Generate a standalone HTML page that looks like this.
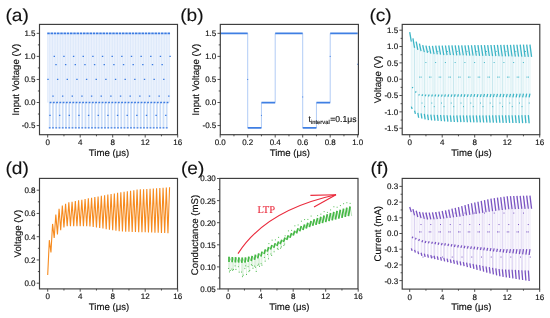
<!DOCTYPE html>
<html><head><meta charset="utf-8"><style>
html,body{margin:0;padding:0;background:#fff;width:550px;height:318px;overflow:hidden}
svg{display:block;will-change:transform}
text{text-rendering:geometricPrecision;font-family:"Liberation Sans",sans-serif;fill:#111;stroke:#111;stroke-width:0.15px}
</style></head><body>
<svg width="550" height="318" viewBox="0 0 550 318">
<rect width="550" height="318" fill="#fff"/>
<rect x="47.7" y="33.35" width="121.87" height="69.15" fill="#f4f8fe"/>
<path d="M47.7 102.5V33.35M49.33 33.35V102.5M50.95 102.5V33.35M52.58 33.35V102.5M54.2 102.5V33.35M55.83 33.35V102.5M57.45 102.5V33.35M59.08 33.35V102.5M60.7 102.5V33.35M62.33 33.35V102.5M63.95 102.5V33.35M65.58 33.35V102.5M67.2 102.5V33.35M68.83 33.35V102.5M70.45 102.5V33.35M72.08 33.35V102.5M73.7 102.5V33.35M75.33 33.35V102.5M76.95 102.5V33.35M78.58 33.35V102.5M80.2 102.5V33.35M81.83 33.35V102.5M83.45 102.5V33.35M85.08 33.35V102.5M86.7 102.5V33.35M88.33 33.35V102.5M89.95 102.5V33.35M91.58 33.35V102.5M93.2 102.5V33.35M94.83 33.35V102.5M96.45 102.5V33.35M98.08 33.35V102.5M99.7 102.5V33.35M101.33 33.35V102.5M102.95 102.5V33.35M104.58 33.35V102.5M106.2 102.5V33.35M107.83 33.35V102.5M109.45 102.5V33.35M111.08 33.35V102.5M112.7 102.5V33.35M114.33 33.35V102.5M115.95 102.5V33.35M117.58 33.35V102.5M119.2 102.5V33.35M120.83 33.35V102.5M122.45 102.5V33.35M124.08 33.35V102.5M125.7 102.5V33.35M127.33 33.35V102.5M128.95 102.5V33.35M130.57 33.35V102.5M132.2 102.5V33.35M133.82 33.35V102.5M135.45 102.5V33.35M137.07 33.35V102.5M138.7 102.5V33.35M140.32 33.35V102.5M141.95 102.5V33.35M143.57 33.35V102.5M145.2 102.5V33.35M146.82 33.35V102.5M148.45 102.5V33.35M150.07 33.35V102.5M151.7 102.5V33.35M153.32 33.35V102.5M154.95 102.5V33.35M156.57 33.35V102.5M158.2 102.5V33.35M159.82 33.35V102.5M161.45 102.5V33.35M163.07 33.35V102.5M164.7 102.5V33.35M166.32 33.35V102.5M167.95 102.5V33.35M169.57 33.35V102.5" stroke="#c4d9f7" stroke-width="0.5" fill="none"/>
<path d="M49.33 102.5V127.86M50.14 127.86V102.5M52.58 102.5V127.86M53.39 127.86V102.5M55.83 102.5V127.86M56.64 127.86V102.5M59.08 102.5V127.86M59.89 127.86V102.5M62.33 102.5V127.86M63.14 127.86V102.5M65.58 102.5V127.86M66.39 127.86V102.5M68.83 102.5V127.86M69.64 127.86V102.5M72.08 102.5V127.86M72.89 127.86V102.5M75.33 102.5V127.86M76.14 127.86V102.5M78.58 102.5V127.86M79.39 127.86V102.5M81.83 102.5V127.86M82.64 127.86V102.5M85.08 102.5V127.86M85.89 127.86V102.5M88.33 102.5V127.86M89.14 127.86V102.5M91.58 102.5V127.86M92.39 127.86V102.5M94.83 102.5V127.86M95.64 127.86V102.5M98.08 102.5V127.86M98.89 127.86V102.5M101.33 102.5V127.86M102.14 127.86V102.5M104.58 102.5V127.86M105.39 127.86V102.5M107.83 102.5V127.86M108.64 127.86V102.5M111.08 102.5V127.86M111.89 127.86V102.5M114.33 102.5V127.86M115.14 127.86V102.5M117.58 102.5V127.86M118.39 127.86V102.5M120.83 102.5V127.86M121.64 127.86V102.5M124.08 102.5V127.86M124.89 127.86V102.5M127.33 102.5V127.86M128.14 127.86V102.5M130.57 102.5V127.86M131.39 127.86V102.5M133.82 102.5V127.86M134.64 127.86V102.5M137.07 102.5V127.86M137.89 127.86V102.5M140.32 102.5V127.86M141.14 127.86V102.5M143.57 102.5V127.86M144.39 127.86V102.5M146.82 102.5V127.86M147.64 127.86V102.5M150.07 102.5V127.86M150.89 127.86V102.5M153.32 102.5V127.86M154.14 127.86V102.5M156.57 102.5V127.86M157.39 127.86V102.5M159.82 102.5V127.86M160.64 127.86V102.5M163.07 102.5V127.86M163.89 127.86V102.5M166.32 102.5V127.86M167.14 127.86V102.5" stroke="#9fc0f2" stroke-width="0.5" fill="none"/>
<path d="M47.25 33.35H49.78M50.5 33.35H53.03M53.75 33.35H56.28M57 33.35H59.53M60.25 33.35H62.78M63.5 33.35H66.03M66.75 33.35H69.28M70 33.35H72.53M73.25 33.35H75.78M76.5 33.35H79.03M79.75 33.35H82.28M83 33.35H85.53M86.25 33.35H88.78M89.5 33.35H92.03M92.75 33.35H95.28M96 33.35H98.53M99.25 33.35H101.78M102.5 33.35H105.03M105.75 33.35H108.28M109 33.35H111.53M112.25 33.35H114.78M115.5 33.35H118.03M118.75 33.35H121.28M122 33.35H124.53M125.25 33.35H127.78M128.5 33.35H131.02M131.75 33.35H134.27M135 33.35H137.52M138.25 33.35H140.77M141.5 33.35H144.02M144.75 33.35H147.27M148 33.35H150.52M151.25 33.35H153.77M154.5 33.35H157.02M157.75 33.35H160.27M161 33.35H163.52M164.25 33.35H166.77M167.5 33.35H170.02" stroke="#3b7be2" stroke-width="1.7" fill="none"/>
<path d="M48.83 127.86H50.64M49.64 102.5H51.45M52.08 127.86H53.89M52.89 102.5H54.7M55.33 127.86H57.14M56.14 102.5H57.95M58.58 127.86H60.39M59.39 102.5H61.2M61.83 127.86H63.64M62.64 102.5H64.45M65.08 127.86H66.89M65.89 102.5H67.7M68.33 127.86H70.14M69.14 102.5H70.95M71.58 127.86H73.39M72.39 102.5H74.2M74.83 127.86H76.64M75.64 102.5H77.45M78.08 127.86H79.89M78.89 102.5H80.7M81.33 127.86H83.14M82.14 102.5H83.95M84.58 127.86H86.39M85.39 102.5H87.2M87.83 127.86H89.64M88.64 102.5H90.45M91.08 127.86H92.89M91.89 102.5H93.7M94.33 127.86H96.14M95.14 102.5H96.95M97.58 127.86H99.39M98.39 102.5H100.2M100.83 127.86H102.64M101.64 102.5H103.45M104.08 127.86H105.89M104.89 102.5H106.7M107.33 127.86H109.14M108.14 102.5H109.95M110.58 127.86H112.39M111.39 102.5H113.2M113.83 127.86H115.64M114.64 102.5H116.45M117.08 127.86H118.89M117.89 102.5H119.7M120.33 127.86H122.14M121.14 102.5H122.95M123.58 127.86H125.39M124.39 102.5H126.2M126.83 127.86H128.64M127.64 102.5H129.45M130.07 127.86H131.89M130.89 102.5H132.7M133.32 127.86H135.14M134.14 102.5H135.95M136.57 127.86H138.39M137.39 102.5H139.2M139.82 127.86H141.64M140.64 102.5H142.45M143.07 127.86H144.89M143.89 102.5H145.7M146.32 127.86H148.14M147.14 102.5H148.95M149.57 127.86H151.39M150.39 102.5H152.2M152.82 127.86H154.64M153.64 102.5H155.45M156.07 127.86H157.89M156.89 102.5H158.7M159.32 127.86H161.14M160.14 102.5H161.95M162.57 127.86H164.39M163.39 102.5H165.2M165.82 127.86H167.64M166.64 102.5H168.45" stroke="#3b7be2" stroke-width="1.3" fill="none"/>
<path d="M53.6 56.4h1.4M63.25 56.4h1.4M72.9 56.4h1.4M82.55 56.4h1.4M92.2 56.4h1.4M101.85 56.4h1.4M111.5 56.4h1.4M121.15 56.4h1.4M130.8 56.4h1.4M140.45 56.4h1.4M150.1 56.4h1.4M159.75 56.4h1.4M169.4 56.4h1.4M55.3 64.7h1.4M64.95 64.7h1.4M74.6 64.7h1.4M84.25 64.7h1.4M93.9 64.7h1.4M103.55 64.7h1.4M113.2 64.7h1.4M122.85 64.7h1.4M132.5 64.7h1.4M142.15 64.7h1.4M151.8 64.7h1.4M161.45 64.7h1.4M47.3 79.45h1.4M56.95 79.45h1.4M66.6 79.45h1.4M76.25 79.45h1.4M85.9 79.45h1.4M95.55 79.45h1.4M105.2 79.45h1.4M114.85 79.45h1.4M124.5 79.45h1.4M134.15 79.45h1.4M143.8 79.45h1.4M153.45 79.45h1.4M163.1 79.45h1.4M52.3 96.05h1.4M61.95 96.05h1.4M71.6 96.05h1.4M81.25 96.05h1.4M90.9 96.05h1.4M100.55 96.05h1.4M110.2 96.05h1.4M119.85 96.05h1.4M129.5 96.05h1.4M139.15 96.05h1.4M148.8 96.05h1.4M158.45 96.05h1.4M168.1 96.05h1.4M49.3 115.41h1.4M58.95 115.41h1.4M68.6 115.41h1.4M78.25 115.41h1.4M87.9 115.41h1.4M97.55 115.41h1.4M107.2 115.41h1.4M116.85 115.41h1.4M126.5 115.41h1.4M136.15 115.41h1.4M145.8 115.41h1.4M155.45 115.41h1.4M165.1 115.41h1.4" stroke="#3b7be2" stroke-width="1.2" fill="none"/>
<rect x="39.5" y="24.4" width="138" height="110.3" fill="none" stroke="#3c3c3c" stroke-width="1.15"/>
<text transform="translate(35.5 128.45)" text-anchor="end" font-size="8" style="stroke-width:0.15px">-0.5</text>
<text transform="translate(35.5 105.4)" text-anchor="end" font-size="8" style="stroke-width:0.15px">0.0</text>
<text transform="translate(35.5 82.35)" text-anchor="end" font-size="8" style="stroke-width:0.15px">0.5</text>
<text transform="translate(35.5 59.3)" text-anchor="end" font-size="8" style="stroke-width:0.15px">1.0</text>
<text transform="translate(35.5 36.25)" text-anchor="end" font-size="8" style="stroke-width:0.15px">1.5</text>
<path d="M36.7 125.55H39.5M36.7 102.5H39.5M36.7 79.45H39.5M36.7 56.4H39.5M36.7 33.35H39.5M37.9 114.03H39.5M37.9 90.97H39.5M37.9 67.92H39.5M37.9 44.88H39.5" stroke="#3c3c3c" stroke-width="0.9"/>
<text transform="translate(47.7 145.2)" text-anchor="middle" font-size="8" style="stroke-width:0.15px">0</text>
<text transform="translate(80.2 145.2)" text-anchor="middle" font-size="8" style="stroke-width:0.15px">4</text>
<text transform="translate(112.7 145.2)" text-anchor="middle" font-size="8" style="stroke-width:0.15px">8</text>
<text transform="translate(145.2 145.2)" text-anchor="middle" font-size="8" style="stroke-width:0.15px">12</text>
<text transform="translate(177.7 145.2)" text-anchor="middle" font-size="8" style="stroke-width:0.15px">16</text>
<path d="M47.7 134.7V137.5M80.2 134.7V137.5M112.7 134.7V137.5M145.2 134.7V137.5M177.7 134.7V137.5M63.95 134.7V136.3M96.45 134.7V136.3M128.95 134.7V136.3M161.45 134.7V136.3" stroke="#3c3c3c" stroke-width="0.9"/>
<text x="109" y="155.7" text-anchor="middle" font-size="9.6">Time (μs)</text>
<text transform="translate(18.6 79.55) rotate(-90)" text-anchor="middle" font-size="9.65">Input Voltage (V)</text>
<text transform="translate(5.4 21.2) scale(1.1 1)" font-size="17.4" style="stroke-width:0.1px">(a)</text>
<path d="M247.7 33.35V127.86M261.45 127.86V102.5M275.2 102.5V33.35M302.7 33.35V127.86M316.45 127.86V102.5M330.2 102.5V33.35" stroke="#7eaaf0" stroke-width="0.6" fill="none"/>
<path d="M220.2 33.35H247.7M247.7 127.86H261.45M261.45 102.5H275.2M275.2 33.35H302.7M302.7 127.86H316.45M316.45 102.5H330.2M330.2 33.35H357.7" stroke="#3f7fe3" stroke-width="1.75" fill="none"/>
<path d="M260.95 115.41h1M302.2 96.97h1M329.7 56.4h1M357.2 64.24h1M247.2 79.45h1" stroke="#3f7fe3" stroke-width="1" />
<rect x="220.3" y="24.4" width="138.1" height="110.3" fill="none" stroke="#3c3c3c" stroke-width="1.15"/>
<text transform="translate(216.3 128.45)" text-anchor="end" font-size="8" style="stroke-width:0.15px">-0.5</text>
<text transform="translate(216.3 105.4)" text-anchor="end" font-size="8" style="stroke-width:0.15px">0.0</text>
<text transform="translate(216.3 82.35)" text-anchor="end" font-size="8" style="stroke-width:0.15px">0.5</text>
<text transform="translate(216.3 59.3)" text-anchor="end" font-size="8" style="stroke-width:0.15px">1.0</text>
<text transform="translate(216.3 36.25)" text-anchor="end" font-size="8" style="stroke-width:0.15px">1.5</text>
<path d="M217.5 125.55H220.3M217.5 102.5H220.3M217.5 79.45H220.3M217.5 56.4H220.3M217.5 33.35H220.3M218.7 114.03H220.3M218.7 90.97H220.3M218.7 67.92H220.3M218.7 44.88H220.3" stroke="#3c3c3c" stroke-width="0.9"/>
<text transform="translate(220.2 145.2)" text-anchor="middle" font-size="8" style="stroke-width:0.15px">0.0</text>
<text transform="translate(247.7 145.2)" text-anchor="middle" font-size="8" style="stroke-width:0.15px">0.2</text>
<text transform="translate(275.2 145.2)" text-anchor="middle" font-size="8" style="stroke-width:0.15px">0.4</text>
<text transform="translate(302.7 145.2)" text-anchor="middle" font-size="8" style="stroke-width:0.15px">0.6</text>
<text transform="translate(330.2 145.2)" text-anchor="middle" font-size="8" style="stroke-width:0.15px">0.8</text>
<text transform="translate(357.7 145.2)" text-anchor="middle" font-size="8" style="stroke-width:0.15px">1.0</text>
<path d="M220.2 134.7V137.5M247.7 134.7V137.5M275.2 134.7V137.5M302.7 134.7V137.5M330.2 134.7V137.5M357.7 134.7V137.5M233.95 134.7V136.3M261.45 134.7V136.3M288.95 134.7V136.3M316.45 134.7V136.3M343.95 134.7V136.3" stroke="#3c3c3c" stroke-width="0.9"/>
<text x="289.85" y="155.7" text-anchor="middle" font-size="9.6">Time (μs)</text>
<text transform="translate(199.4 79.55) rotate(-90)" text-anchor="middle" font-size="9.65">Input Voltage (V)</text>
<text transform="translate(180.2 21.2) scale(1.1 1)" font-size="17.4" style="stroke-width:0.1px">(b)</text>
<text x="308.6" y="121.5" font-size="8.6">t<tspan font-size="5.8" dy="2">interval</tspan><tspan dy="-2" dx="0.6">=0.1μs</tspan></text>
<path d="M411.32 41.63V106.64M412.14 108.93V88.02M412.95 87.04V38.36M415.39 113.83V92.59M416.2 91.29V41.63M417.82 49.8V112.85M418.64 117.75V95.53M419.45 94.23V43.59M421.07 51.1V113.39M421.89 118.51V95.86M422.7 94.34V45.22M425.14 119.28V96.19M425.95 94.45V45.55M427.57 52.9V114.48M428.39 120.04V96.52M429.2 94.55V45.88M430.82 53.72V114.61M431.64 120.3V96.55M432.45 94.52V45.79M434.89 120.56V96.58M435.7 94.49V45.71M437.32 54.37V114.88M438.14 120.82V96.61M438.95 94.46V45.63M440.57 54.7V115.01M441.39 121.08V96.64M442.2 94.43V45.55M444.64 121.34V96.67M445.45 94.4V45.51M447.07 55.1V115.27M447.89 121.61V96.7M448.7 94.37V45.48M450.32 55.17V115.4M451.14 121.87V96.73M451.95 94.34V45.44M454.39 122.02V96.76M455.2 94.31V45.41M456.82 55.31V115.44M457.64 122.08V96.79M458.45 94.28V45.37M460.07 55.38V115.43M460.89 122.13V96.82M461.7 94.25V45.34M464.14 122.18V96.85M464.95 94.22V45.3M466.57 55.52V115.4M467.39 122.23V96.88M468.2 94.19V45.26M469.82 55.59V115.39M470.64 122.29V96.91M471.45 94.16V45.23M473.89 122.34V96.94M474.7 94.13V45.19M476.32 55.74V115.37M477.14 122.39V96.97M477.95 94.1V45.16M479.57 55.81V115.35M480.39 122.44V97M481.2 94.07V45.12M483.64 122.49V97.03M484.45 94.04V45.09M486.07 55.95V115.33M486.89 122.55V97.06M487.7 94.01V45.05M489.32 56.02V115.31M490.14 122.6V97.09M490.95 93.98V45.02M493.39 122.65V97.12M494.2 93.95V44.98M495.82 56.16V115.29M496.64 122.7V97.15M497.45 93.92V44.94M499.07 56.24V115.27M499.89 122.76V97.18M500.7 93.89V44.91M503.14 122.81V97.21M503.95 93.86V44.87M505.57 56.38V115.25M506.39 122.86V97.24M507.2 93.83V44.84M508.82 56.45V115.24M509.64 122.91V97.27M510.45 93.8V44.8M512.89 122.96V97.3M513.7 93.77V44.77M515.33 56.59V115.21M516.14 123.02V97.33M516.95 93.74V44.73M518.58 56.66V115.2M519.39 123.07V97.36M520.2 93.71V44.69M522.64 123.12V97.39M523.45 93.68V44.66M525.08 56.81V115.17M525.89 123.17V97.42M526.7 93.65V44.62M528.33 56.88V115.16M529.14 123.23V97.45M529.95 93.62V44.59" stroke="#bfe5ec" stroke-width="0.45" fill="none"/>
<path d="M414.57 47.84V110.56M424.32 52.08V113.94M434.07 54.04V114.74M443.82 55.02V115.14M453.57 55.24V115.46M463.32 55.45V115.42M473.07 55.67V115.38M482.82 55.88V115.34M492.57 56.09V115.3M502.32 56.31V115.26M512.08 56.52V115.22M521.83 56.73V115.18" stroke="#8ccfdb" stroke-width="0.5" fill="none"/>
<path d="M409.7 32.16L411.32 41.63M411.32 106.64L412.14 108.93M412.14 88.02L412.95 87.04M412.95 38.36L414.57 47.84M414.57 110.56L415.39 113.83M415.39 92.59L416.2 91.29M416.2 41.63L417.82 49.8M417.82 112.85L418.64 117.75M418.64 95.53L419.45 94.23M419.45 43.59L421.07 51.1M421.07 113.39L421.89 118.51M421.89 95.86L422.7 94.34M422.7 45.22L424.32 52.08M424.32 113.94L425.14 119.28M425.14 96.19L425.95 94.45M425.95 45.55L427.57 52.9M427.57 114.48L428.39 120.04M428.39 96.52L429.2 94.55M429.2 45.88L430.82 53.72M430.82 114.61L431.64 120.3M431.64 96.55L432.45 94.52M432.45 45.79L434.07 54.04M434.07 114.74L434.89 120.56M434.89 96.58L435.7 94.49M435.7 45.71L437.32 54.37M437.32 114.88L438.14 120.82M438.14 96.61L438.95 94.46M438.95 45.63L440.57 54.7M440.57 115.01L441.39 121.08M441.39 96.64L442.2 94.43M442.2 45.55L443.82 55.02M443.82 115.14L444.64 121.34M444.64 96.67L445.45 94.4M445.45 45.51L447.07 55.1M447.07 115.27L447.89 121.61M447.89 96.7L448.7 94.37M448.7 45.48L450.32 55.17M450.32 115.4L451.14 121.87M451.14 96.73L451.95 94.34M451.95 45.44L453.57 55.24M453.57 115.46L454.39 122.02M454.39 96.76L455.2 94.31M455.2 45.41L456.82 55.31M456.82 115.44L457.64 122.08M457.64 96.79L458.45 94.28M458.45 45.37L460.07 55.38M460.07 115.43L460.89 122.13M460.89 96.82L461.7 94.25M461.7 45.34L463.32 55.45M463.32 115.42L464.14 122.18M464.14 96.85L464.95 94.22M464.95 45.3L466.57 55.52M466.57 115.4L467.39 122.23M467.39 96.88L468.2 94.19M468.2 45.26L469.82 55.59M469.82 115.39L470.64 122.29M470.64 96.91L471.45 94.16M471.45 45.23L473.07 55.67M473.07 115.38L473.89 122.34M473.89 96.94L474.7 94.13M474.7 45.19L476.32 55.74M476.32 115.37L477.14 122.39M477.14 96.97L477.95 94.1M477.95 45.16L479.57 55.81M479.57 115.35L480.39 122.44M480.39 97L481.2 94.07M481.2 45.12L482.82 55.88M482.82 115.34L483.64 122.49M483.64 97.03L484.45 94.04M484.45 45.09L486.07 55.95M486.07 115.33L486.89 122.55M486.89 97.06L487.7 94.01M487.7 45.05L489.32 56.02M489.32 115.31L490.14 122.6M490.14 97.09L490.95 93.98M490.95 45.02L492.57 56.09M492.57 115.3L493.39 122.65M493.39 97.12L494.2 93.95M494.2 44.98L495.82 56.16M495.82 115.29L496.64 122.7M496.64 97.15L497.45 93.92M497.45 44.94L499.07 56.24M499.07 115.27L499.89 122.76M499.89 97.18L500.7 93.89M500.7 44.91L502.32 56.31M502.32 115.26L503.14 122.81M503.14 97.21L503.95 93.86M503.95 44.87L505.57 56.38M505.57 115.25L506.39 122.86M506.39 97.24L507.2 93.83M507.2 44.84L508.82 56.45M508.82 115.24L509.64 122.91M509.64 97.27L510.45 93.8M510.45 44.8L512.08 56.52M512.08 115.22L512.89 122.96M512.89 97.3L513.7 93.77M513.7 44.77L515.33 56.59M515.33 115.21L516.14 123.02M516.14 97.33L516.95 93.74M516.95 44.73L518.58 56.66M518.58 115.2L519.39 123.07M519.39 97.36L520.2 93.71M520.2 44.69L521.83 56.73M521.83 115.18L522.64 123.12M522.64 97.39L523.45 93.68M523.45 44.66L525.08 56.81M525.08 115.17L525.89 123.17M525.89 97.42L526.7 93.65M526.7 44.62L528.33 56.88M528.33 115.16L529.14 123.23M529.14 97.45L529.95 93.62M529.95 44.59L531.58 56.95" stroke="#3db5c6" stroke-width="1.3" fill="none"/>
<path d="M425.4 62.54h1M435.15 62.54h1M444.9 62.54h1M454.65 62.54h1M464.4 62.54h1M474.15 62.54h1M483.9 62.54h1M493.65 62.54h1M503.4 62.54h1M513.15 62.54h1M522.9 62.54h1M419.2 77.11h1M428.95 77.11h1M438.7 77.11h1M448.45 77.11h1M458.2 77.11h1M467.95 77.11h1M477.7 77.11h1M487.45 77.11h1M497.2 77.11h1M506.95 77.11h1M516.7 77.11h1M526.45 77.11h1M420.7 77.11h1M430.45 77.11h1M440.2 77.11h1M449.95 77.11h1M459.7 77.11h1M469.45 77.11h1M479.2 77.11h1M488.95 77.11h1M498.7 77.11h1M508.45 77.11h1M518.2 77.11h1M527.95 77.11h1M421.5 103.05h1M431.25 103.05h1M441 103.05h1M450.75 103.05h1M460.5 103.05h1M470.25 103.05h1M480 103.05h1M489.75 103.05h1M499.5 103.05h1M509.25 103.05h1M519 103.05h1M528.75 103.05h1M424 106.64h1M433.75 106.64h1M443.5 106.64h1M453.25 106.64h1M463 106.64h1M472.75 106.64h1M482.5 106.64h1M492.25 106.64h1M502 106.64h1M511.75 106.64h1M521.5 106.64h1M427.5 51.43h1M437.25 51.43h1M447 51.43h1M456.75 51.43h1M466.5 51.43h1M476.25 51.43h1M486 51.43h1M495.75 51.43h1M505.5 51.43h1M515.25 51.43h1M525 51.43h1" stroke="#3fb6c8" stroke-width="1" fill="none"/>
<rect x="402.2" y="24.4" width="137.6" height="110.3" fill="none" stroke="#3c3c3c" stroke-width="1.15"/>
<text transform="translate(398.2 131.11)" text-anchor="end" font-size="8" style="stroke-width:0.15px">-1.5</text>
<text transform="translate(398.2 114.77)" text-anchor="end" font-size="8" style="stroke-width:0.15px">-1.0</text>
<text transform="translate(398.2 98.44)" text-anchor="end" font-size="8" style="stroke-width:0.15px">-0.5</text>
<text transform="translate(398.2 82.1)" text-anchor="end" font-size="8" style="stroke-width:0.15px">0.0</text>
<text transform="translate(398.2 65.77)" text-anchor="end" font-size="8" style="stroke-width:0.15px">0.5</text>
<text transform="translate(398.2 49.43)" text-anchor="end" font-size="8" style="stroke-width:0.15px">1.0</text>
<text transform="translate(398.2 33.09)" text-anchor="end" font-size="8" style="stroke-width:0.15px">1.5</text>
<path d="M399.4 128.21H402.2M399.4 111.87H402.2M399.4 95.53H402.2M399.4 79.2H402.2M399.4 62.87H402.2M399.4 46.53H402.2M399.4 30.2H402.2M400.6 120.04H402.2M400.6 103.7H402.2M400.6 87.37H402.2M400.6 71.03H402.2M400.6 54.7H402.2M400.6 38.36H402.2" stroke="#3c3c3c" stroke-width="0.9"/>
<text transform="translate(409.7 145.2)" text-anchor="middle" font-size="8" style="stroke-width:0.15px">0</text>
<text transform="translate(442.2 145.2)" text-anchor="middle" font-size="8" style="stroke-width:0.15px">4</text>
<text transform="translate(474.7 145.2)" text-anchor="middle" font-size="8" style="stroke-width:0.15px">8</text>
<text transform="translate(507.2 145.2)" text-anchor="middle" font-size="8" style="stroke-width:0.15px">12</text>
<text transform="translate(539.7 145.2)" text-anchor="middle" font-size="8" style="stroke-width:0.15px">16</text>
<path d="M409.7 134.7V137.5M442.2 134.7V137.5M474.7 134.7V137.5M507.2 134.7V137.5M539.7 134.7V137.5M425.95 134.7V136.3M458.45 134.7V136.3M490.95 134.7V136.3M523.45 134.7V136.3" stroke="#3c3c3c" stroke-width="0.9"/>
<text x="471.5" y="155.7" text-anchor="middle" font-size="9.6">Time (μs)</text>
<text transform="translate(381.3 79.55) rotate(-90)" text-anchor="middle" font-size="9.65">Voltage (V)</text>
<text transform="translate(369.4 21.2) scale(1.1 1)" font-size="17.4" style="stroke-width:0.1px">(c)</text>
<polyline points="47.7,275.06 49.33,240.19 50.95,252.39 52.58,223.91 54.2,237.86 55.83,214.61 57.45,234.38 59.08,208.8 60.7,230.31 62.33,205.66 63.95,227.4 65.58,203.8 67.2,226.24 68.83,202.29 70.45,226.24 72.08,201.82 73.7,226.24 75.33,201.01 76.95,226.24 78.58,200.34 80.2,226.24 81.83,199.67 83.45,226.24 85.08,199.01 86.7,226.24 88.33,198.34 89.95,226.5 91.58,197.72 93.2,227.02 94.83,197.1 96.45,227.55 98.08,196.48 99.7,228.07 101.33,195.86 102.95,228.59 104.58,195.24 106.2,229.11 107.83,194.62 109.45,229.64 111.08,194 112.7,230.16 114.33,193.42 115.95,230.68 117.58,192.87 119.2,231.21 120.83,192.33 122.45,231.53 124.08,191.79 125.7,231.64 127.33,191.25 128.95,231.76 130.57,190.7 132.2,231.88 133.82,190.16 135.45,231.99 137.07,189.62 138.7,232.11 140.32,189.39 141.95,232.22 143.57,189.15 145.2,232.34 146.82,188.92 148.45,232.46 150.07,188.69 151.7,232.57 153.32,188.46 154.95,232.69 156.57,188.22 158.2,232.81 159.82,187.99 161.45,232.92 163.07,187.76 164.7,233.04 166.32,187.53 167.95,233.15 169.57,187.29" fill="none" stroke="#f68b1f" stroke-width="1.1" stroke-linejoin="miter"/>
<rect x="39.5" y="178.4" width="138" height="110.5" fill="none" stroke="#3c3c3c" stroke-width="1.15"/>
<text transform="translate(35.5 286.1)" text-anchor="end" font-size="8" style="stroke-width:0.15px">0.0</text>
<text transform="translate(35.5 262.85)" text-anchor="end" font-size="8" style="stroke-width:0.15px">0.2</text>
<text transform="translate(35.5 239.6)" text-anchor="end" font-size="8" style="stroke-width:0.15px">0.4</text>
<text transform="translate(35.5 216.35)" text-anchor="end" font-size="8" style="stroke-width:0.15px">0.6</text>
<text transform="translate(35.5 193.1)" text-anchor="end" font-size="8" style="stroke-width:0.15px">0.8</text>
<path d="M36.7 283.2H39.5M36.7 259.95H39.5M36.7 236.7H39.5M36.7 213.45H39.5M36.7 190.2H39.5M37.9 271.57H39.5M37.9 248.32H39.5M37.9 225.07H39.5M37.9 201.82H39.5" stroke="#3c3c3c" stroke-width="0.9"/>
<text transform="translate(47.7 299.4)" text-anchor="middle" font-size="8" style="stroke-width:0.15px">0</text>
<text transform="translate(80.2 299.4)" text-anchor="middle" font-size="8" style="stroke-width:0.15px">4</text>
<text transform="translate(112.7 299.4)" text-anchor="middle" font-size="8" style="stroke-width:0.15px">8</text>
<text transform="translate(145.2 299.4)" text-anchor="middle" font-size="8" style="stroke-width:0.15px">12</text>
<text transform="translate(177.7 299.4)" text-anchor="middle" font-size="8" style="stroke-width:0.15px">16</text>
<path d="M47.7 288.9V291.7M80.2 288.9V291.7M112.7 288.9V291.7M145.2 288.9V291.7M177.7 288.9V291.7M63.95 288.9V290.5M96.45 288.9V290.5M128.95 288.9V290.5M161.45 288.9V290.5" stroke="#3c3c3c" stroke-width="0.9"/>
<text x="109" y="309.9" text-anchor="middle" font-size="9.6">Time (μs)</text>
<text transform="translate(21.4 233.65) rotate(-90)" text-anchor="middle" font-size="9.65">Voltage (V)</text>
<text transform="translate(5.4 174.4) scale(1.1 1)" font-size="17.4" style="stroke-width:0.1px">(d)</text>
<path d="M228.61 262.1V268.48M229.42 262.1V271.93M230.23 262.1V270.5M231.86 262.28V269.14M232.67 262.28V270.33M233.48 262.28V269.42M235.11 262.46V265.91M235.92 262.46V269.48M238.36 262.63V266.71M239.17 262.63V272.17M241.61 262.81V272.1M242.42 262.81V276.66M243.23 262.81V275.2M244.86 262.66V268.64M245.67 262.66V265.88M246.48 262.66V274.53M248.11 261.95V266.68M248.92 261.95V271.62M249.73 261.95V270.5M251.36 261.24V264.62M252.17 261.24V265.56M252.98 261.24V268.3M254.61 259.87V266.13M255.42 259.87V267.25M256.23 259.87V271.47M257.86 258.37V265.35M258.67 258.37V264.2M259.48 258.37V266.33M261.11 256.51V263.68M261.92 256.51V265.21M264.36 254.07V257.45M265.17 254.07V261.19M267.61 251.62V254.52M268.42 251.62V258.8M270.86 249.44V254.03M271.67 249.44V255.41M274.11 247.67V251.81M277.36 245.91V248.66M278.17 245.91V249.39M280.61 244.14V248.24M281.42 244.14V246.93M283.86 242.07V245.54M284.67 242.07V244.15" stroke="#c2e6c2" stroke-width="0.5" fill="none"/>
<path d="M229.01 256.8L232.21 262.28M232.32 256.98L235.4 262.46M235.62 257.15L238.6 262.63M238.92 257.33L241.8 262.81M242.23 257.51L244.99 262.66M245.53 257.35L248.19 261.95M248.84 256.65L251.38 261.24M252.14 255.94L254.58 259.87M255.45 254.66L257.77 258.37M258.75 253.33L260.97 256.51M262.05 251.65L264.17 254.07M265.36 249.38L267.36 251.62M268.66 247.11L270.56 249.44M271.97 245.02L273.75 247.67M275.27 243.25L276.95 245.91M278.57 241.49L280.2 244.14M281.82 239.72L283.45 242.07M285.07 237.65L286.7 239.86M288.32 235.35L289.95 237.7M291.57 233.01L293.2 235.54M294.82 230.68L296.45 233.38M298.07 228.34L299.7 231.3M301.32 226.09L302.95 229.89M304.57 224.41L306.2 228.52M307.82 222.68L309.45 227.15M311.07 220.96L312.7 225.83M314.32 219.29L315.95 224.92M317.57 218.02L319.2 224M320.82 216.75L322.45 223.08M324.07 215.48L325.7 222.16M327.32 214.21L328.95 221.19M330.57 212.99L332.2 220.33M333.82 211.9L335.45 219.49M337.07 210.83L338.7 218.65M340.32 209.75L341.95 217.81M343.57 208.68L345.2 216.97M346.82 207.6L348.45 216.13M350.07 206.52L351.7 216.07" stroke="#7fca7f" stroke-width="0.55" fill="none"/>
<path d="M229.01 262.1L229.01 256.8M232.21 262.28L232.32 256.98M235.4 262.46L235.62 257.15M238.6 262.63L238.92 257.33M241.8 262.81L242.23 257.51M244.99 262.66L245.53 257.35M248.19 261.95L248.84 256.65M251.38 261.24L252.14 255.94M254.58 259.87L255.45 254.66M257.77 258.37L258.75 253.33M260.97 256.51L262.05 251.65M264.17 254.07L265.36 249.38M267.36 251.62L268.66 247.11M270.56 249.44L271.97 245.02M273.75 247.67L275.27 243.25M276.95 245.91L278.57 241.49M280.2 244.14L281.82 239.72M283.45 242.07L285.07 237.65M286.7 239.86L288.32 235.35M289.95 237.7L291.57 233.01M293.2 235.54L294.82 230.68M296.45 233.38L298.07 228.34M299.7 231.3L301.32 226.09M302.95 229.89L304.57 224.41M306.2 228.52L307.82 222.68M309.45 227.15L311.07 220.96M312.7 225.83L314.32 219.29M315.95 224.92L317.57 218.02M319.2 224L320.82 216.75M322.45 223.08L324.07 215.48M325.7 222.16L327.32 214.21M328.95 221.19L330.57 212.99M332.2 220.33L333.82 211.9M335.45 219.49L337.07 210.83M338.7 218.65L340.32 209.75M341.95 217.81L343.57 208.68M345.2 216.97L346.82 207.6M348.45 216.13L350.07 206.52" stroke="#45b845" stroke-width="1.75" fill="none"/>
<path d="M228.16 268.48h0.9M228.97 271.93h0.9M229.78 270.5h0.9M231.41 269.14h0.9M232.22 270.33h0.9M233.03 269.42h0.9M234.66 265.91h0.9M235.47 269.48h0.9M237.91 266.71h0.9M238.72 272.17h0.9M241.16 272.1h0.9M241.97 276.66h0.9M242.78 275.2h0.9M244.41 268.64h0.9M245.22 265.88h0.9M246.03 274.53h0.9M247.66 266.68h0.9M248.47 271.62h0.9M249.28 270.5h0.9M250.91 264.62h0.9M251.72 265.56h0.9M252.53 268.3h0.9M254.16 266.13h0.9M254.97 267.25h0.9M255.78 271.47h0.9M257.41 265.35h0.9M258.22 264.2h0.9M259.03 266.33h0.9M260.66 263.68h0.9M261.47 265.21h0.9M263.91 257.45h0.9M264.72 261.19h0.9M268.43 243.62h0.9M267.16 254.52h0.9M267.97 258.8h0.9M271.68 240.16h0.9M270.41 254.03h0.9M271.22 255.41h0.9M274.93 239.87h0.9M273.66 251.81h0.9M278.18 237.37h0.9M276.91 248.66h0.9M277.72 249.39h0.9M280.16 248.24h0.9M280.97 246.93h0.9M284.68 235.8h0.9M283.41 245.54h0.9M284.22 244.15h0.9M287.93 230.87h0.9M291.18 230.37h0.9M294.43 225.83h0.9M297.68 224.98h0.9M300.93 221.2h0.9M304.18 219.58h0.9M307.43 219.45h0.9M310.68 216.07h0.9M317.18 215.63h0.9M320.43 214.16h0.9M323.68 211.63h0.9M326.93 212.42h0.9M330.18 209.92h0.9M333.43 206.76h0.9M336.68 207.24h0.9M339.93 205.59h0.9M343.18 203.73h0.9M346.43 202.74h0.9M349.68 203.37h0.9" stroke="#45b845" stroke-width="1" fill="none"/>
<path d="M238 253.6 Q266 210 336 194.8" fill="none" stroke="#ea2a3c" stroke-width="1.15"/>
<path d="M310.4 195.4 L336 194.8 L314 207" fill="none" stroke="#ea2a3c" stroke-width="1.15"/>
<text x="257.4" y="213.4" style="font-family:Liberation Serif,serif;fill:#ea2a3c;stroke:#ea2a3c;stroke-width:0.1px" font-size="10.5">LTP</text>
<rect x="219.8" y="178.4" width="138.2" height="110.5" fill="none" stroke="#3c3c3c" stroke-width="1.15"/>
<text transform="translate(215.8 291.9)" text-anchor="end" font-size="8" style="stroke-width:0.15px">0.05</text>
<text transform="translate(215.8 269.8)" text-anchor="end" font-size="8" style="stroke-width:0.15px">0.10</text>
<text transform="translate(215.8 247.7)" text-anchor="end" font-size="8" style="stroke-width:0.15px">0.15</text>
<text transform="translate(215.8 225.6)" text-anchor="end" font-size="8" style="stroke-width:0.15px">0.20</text>
<text transform="translate(215.8 203.5)" text-anchor="end" font-size="8" style="stroke-width:0.15px">0.25</text>
<text transform="translate(215.8 181.4)" text-anchor="end" font-size="8" style="stroke-width:0.15px">0.30</text>
<path d="M217 289H219.8M217 266.9H219.8M217 244.8H219.8M217 222.7H219.8M217 200.6H219.8M217 178.5H219.8M218.2 277.95H219.8M218.2 255.85H219.8M218.2 233.75H219.8M218.2 211.65H219.8M218.2 189.55H219.8" stroke="#3c3c3c" stroke-width="0.9"/>
<text transform="translate(228.2 299.4)" text-anchor="middle" font-size="8" style="stroke-width:0.15px">0</text>
<text transform="translate(260.7 299.4)" text-anchor="middle" font-size="8" style="stroke-width:0.15px">4</text>
<text transform="translate(293.2 299.4)" text-anchor="middle" font-size="8" style="stroke-width:0.15px">8</text>
<text transform="translate(325.7 299.4)" text-anchor="middle" font-size="8" style="stroke-width:0.15px">12</text>
<text transform="translate(358.2 299.4)" text-anchor="middle" font-size="8" style="stroke-width:0.15px">16</text>
<path d="M228.2 288.9V291.7M260.7 288.9V291.7M293.2 288.9V291.7M325.7 288.9V291.7M358.2 288.9V291.7M244.45 288.9V290.5M276.95 288.9V290.5M309.45 288.9V290.5M341.95 288.9V290.5" stroke="#3c3c3c" stroke-width="0.9"/>
<text x="289.4" y="309.9" text-anchor="middle" font-size="9.6">Time (μs)</text>
<text transform="translate(198 235) rotate(-90)" text-anchor="middle" font-size="9.65">Conductance (mS)</text>
<text transform="translate(181 174.4) scale(1.1 1)" font-size="17.4" style="stroke-width:0.1px">(e)</text>
<path d="M411.32 211.99V248.41M412.14 250.77V238.21M412.95 236.64V209.16M415.39 252.46V239.56M416.2 237.85V210.73M417.82 217.01V251.31M418.64 254.15V240.92M419.45 239.06V211.8M421.07 218.18V252.76M421.89 255.84V242.27M422.7 240.26V212.36M425.14 256.84V242.94M425.95 240.87V212.73M427.57 219.51V254.36M428.39 257.61V243.39M429.2 241.28V212.56M430.82 219.46V255.06M431.64 258.38V243.84M432.45 241.69V212.39M434.89 259.15V244.29M435.7 242.1V212.04M437.32 219.21V256.47M438.14 259.92V244.74M438.95 242.51V211.52M440.57 218.9V257.18M441.39 260.69V245.19M442.2 242.92V211M444.64 261.46V245.63M445.45 243.33V210.33M447.07 218.22V258.59M447.89 262.22V246.08M448.7 243.74V209.53M450.32 217.8V259.29M451.14 262.99V246.53M451.95 244.15V208.73M454.39 263.76V246.98M455.2 244.56V207.93M456.82 216.96V260.7M457.64 264.53V247.43M458.45 244.97V207.12M460.07 216.54V261.41M460.89 265.3V247.88M461.7 245.38V206.14M464.14 266.14V248.28M464.95 245.74V205.15M466.57 215.47V262.7M467.39 267.06V248.63M468.2 246.04V204.16M469.82 214.93V263.33M470.64 267.97V248.98M471.45 246.34V203.28M473.89 268.89V249.34M474.7 246.64V202.51M476.32 213.86V264.59M477.14 269.81V249.69M477.95 246.94V201.74M479.57 213.33V265.21M480.39 270.72V250.04M481.2 247.24V200.96M483.64 271.64V250.4M484.45 247.54V200.19M486.07 212.27V266.47M486.89 272.55V250.75M487.7 247.85V199.42M489.32 211.74V267.1M490.14 273.47V251.1M490.95 248.15V198.65M493.39 274.39V251.46M494.2 248.45V198.17M495.82 210.82V268.35M496.64 275.3V251.81M497.45 248.75V197.69M499.07 210.43V268.98M499.89 276.22V252.16M500.7 249.05V197.21M503.14 276.93V252.5M503.95 249.2V196.73M505.57 209.65V269.51M506.39 277.43V252.81M507.2 249.2V196.25M508.82 209.26V269.65M509.64 277.93V253.12M510.45 249.2V196.07M512.89 278.43V253.44M513.7 249.2V195.98M515.33 209.05V269.93M516.14 278.94V253.75M516.95 249.2V195.9M518.58 208.99V270.07M519.39 279.44V254.07M520.2 249.2V195.81M522.64 279.94V254.38M523.45 249.2V195.72M525.08 208.86V270.36M525.89 280.44V254.69M526.7 249.2V195.64M528.33 208.79V270.5M529.14 280.95V255.01M529.95 249.2V195.55" stroke="#d9cef1" stroke-width="0.45" fill="none"/>
<path d="M414.57 215.44V249.86M424.32 218.95V253.65M434.07 219.4V255.77M443.82 218.59V257.88M453.57 217.38V260M463.32 216.01V262.07M473.07 214.39V263.96M482.82 212.8V265.84M492.57 211.21V267.73M502.32 210.04V269.37M512.08 209.12V269.79M521.83 208.92V270.21" stroke="#b39fe0" stroke-width="0.5" fill="none"/>
<path d="M409.7 206.97L411.32 211.99M411.32 248.41L412.14 250.77M412.14 238.21L412.95 236.64M412.95 209.16L414.57 215.44M414.57 249.86L415.39 252.46M415.39 239.56L416.2 237.85M416.2 210.73L417.82 217.01M417.82 251.31L418.64 254.15M418.64 240.92L419.45 239.06M419.45 211.8L421.07 218.18M421.07 252.76L421.89 255.84M421.89 242.27L422.7 240.26M422.7 212.36L424.32 218.95M424.32 253.65L425.14 256.84M425.14 242.94L425.95 240.87M425.95 212.73L427.57 219.51M427.57 254.36L428.39 257.61M428.39 243.39L429.2 241.28M429.2 212.56L430.82 219.46M430.82 255.06L431.64 258.38M431.64 243.84L432.45 241.69M432.45 212.39L434.07 219.4M434.07 255.77L434.89 259.15M434.89 244.29L435.7 242.1M435.7 212.04L437.32 219.21M437.32 256.47L438.14 259.92M438.14 244.74L438.95 242.51M438.95 211.52L440.57 218.9M440.57 257.18L441.39 260.69M441.39 245.19L442.2 242.92M442.2 211L443.82 218.59M443.82 257.88L444.64 261.46M444.64 245.63L445.45 243.33M445.45 210.33L447.07 218.22M447.07 258.59L447.89 262.22M447.89 246.08L448.7 243.74M448.7 209.53L450.32 217.8M450.32 259.29L451.14 262.99M451.14 246.53L451.95 244.15M451.95 208.73L453.57 217.38M453.57 260L454.39 263.76M454.39 246.98L455.2 244.56M455.2 207.93L456.82 216.96M456.82 260.7L457.64 264.53M457.64 247.43L458.45 244.97M458.45 207.12L460.07 216.54M460.07 261.41L460.89 265.3M460.89 247.88L461.7 245.38M461.7 206.14L463.32 216.01M463.32 262.07L464.14 266.14M464.14 248.28L464.95 245.74M464.95 205.15L466.57 215.47M466.57 262.7L467.39 267.06M467.39 248.63L468.2 246.04M468.2 204.16L469.82 214.93M469.82 263.33L470.64 267.97M470.64 248.98L471.45 246.34M471.45 203.28L473.07 214.39M473.07 263.96L473.89 268.89M473.89 249.34L474.7 246.64M474.7 202.51L476.32 213.86M476.32 264.59L477.14 269.81M477.14 249.69L477.95 246.94M477.95 201.74L479.57 213.33M479.57 265.21L480.39 270.72M480.39 250.04L481.2 247.24M481.2 200.96L482.82 212.8M482.82 265.84L483.64 271.64M483.64 250.4L484.45 247.54M484.45 200.19L486.07 212.27M486.07 266.47L486.89 272.55M486.89 250.75L487.7 247.85M487.7 199.42L489.32 211.74M489.32 267.1L490.14 273.47M490.14 251.1L490.95 248.15M490.95 198.65L492.57 211.21M492.57 267.73L493.39 274.39M493.39 251.46L494.2 248.45M494.2 198.17L495.82 210.82M495.82 268.35L496.64 275.3M496.64 251.81L497.45 248.75M497.45 197.69L499.07 210.43M499.07 268.98L499.89 276.22M499.89 252.16L500.7 249.05M500.7 197.21L502.32 210.04M502.32 269.37L503.14 276.93M503.14 252.5L503.95 249.2M503.95 196.73L505.57 209.65M505.57 269.51L506.39 277.43M506.39 252.81L507.2 249.2M507.2 196.25L508.82 209.26M508.82 269.65L509.64 277.93M509.64 253.12L510.45 249.2M510.45 196.07L512.08 209.12M512.08 269.79L512.89 278.43M512.89 253.44L513.7 249.2M513.7 195.98L515.33 209.05M515.33 269.93L516.14 278.94M516.14 253.75L516.95 249.2M516.95 195.9L518.58 208.99M518.58 270.07L519.39 279.44M519.39 254.07L520.2 249.2M520.2 195.81L521.83 208.92M521.83 270.21L522.64 279.94M522.64 254.38L523.45 249.2M523.45 195.72L525.08 208.86M525.08 270.36L525.89 280.44M525.89 254.69L526.7 249.2M526.7 195.64L528.33 208.79M528.33 270.5L529.14 280.95M529.14 255.01L529.95 249.2M529.95 195.55L531.58 208.73" stroke="#7a54c2" stroke-width="1.3" fill="none"/>
<path d="M420.5 224.55h1M430.25 224.55h1M440 224.55h1M449.75 224.55h1M459.5 224.55h1M469.25 224.55h1M479 224.55h1M488.75 224.55h1M498.5 224.55h1M508.25 224.55h1M518 224.55h1M527.75 224.55h1M419 231.93h1M428.75 231.93h1M438.5 231.93h1M448.25 231.93h1M458 231.93h1M467.75 231.93h1M477.5 231.93h1M487.25 231.93h1M497 231.93h1M506.75 231.93h1M516.5 231.93h1M526.25 231.93h1M420.5 231.93h1M430.25 231.93h1M440 231.93h1M449.75 231.93h1M459.5 231.93h1M469.25 231.93h1M479 231.93h1M488.75 231.93h1M498.5 231.93h1M508.25 231.93h1M518 231.93h1M527.75 231.93h1M422.5 257.05h1M432.25 257.05h1M442 257.05h1M451.75 257.05h1M461.5 257.05h1M471.25 257.05h1M481 257.05h1M490.75 257.05h1M500.5 257.05h1M510.25 257.05h1M520 257.05h1M529.75 257.05h1M425.5 213.09h1M435.25 213.09h1M445 213.09h1M454.75 213.09h1M464.5 213.09h1M474.25 213.09h1M484 213.09h1M493.75 213.09h1M503.5 213.09h1M513.25 213.09h1M523 213.09h1" stroke="#7b55c4" stroke-width="1" fill="none"/>
<rect x="402.2" y="178.4" width="137.4" height="110.7" fill="none" stroke="#3c3c3c" stroke-width="1.15"/>
<text transform="translate(398.2 283.5)" text-anchor="end" font-size="8" style="stroke-width:0.15px">-0.3</text>
<text transform="translate(398.2 267.8)" text-anchor="end" font-size="8" style="stroke-width:0.15px">-0.2</text>
<text transform="translate(398.2 252.1)" text-anchor="end" font-size="8" style="stroke-width:0.15px">-0.1</text>
<text transform="translate(398.2 236.4)" text-anchor="end" font-size="8" style="stroke-width:0.15px">0.0</text>
<text transform="translate(398.2 220.7)" text-anchor="end" font-size="8" style="stroke-width:0.15px">0.1</text>
<text transform="translate(398.2 205)" text-anchor="end" font-size="8" style="stroke-width:0.15px">0.2</text>
<text transform="translate(398.2 189.3)" text-anchor="end" font-size="8" style="stroke-width:0.15px">0.3</text>
<path d="M399.4 280.6H402.2M399.4 264.9H402.2M399.4 249.2H402.2M399.4 233.5H402.2M399.4 217.8H402.2M399.4 202.1H402.2M399.4 186.4H402.2M400.6 272.75H402.2M400.6 257.05H402.2M400.6 241.35H402.2M400.6 225.65H402.2M400.6 209.95H402.2M400.6 194.25H402.2" stroke="#3c3c3c" stroke-width="0.9"/>
<text transform="translate(409.7 299.6)" text-anchor="middle" font-size="8" style="stroke-width:0.15px">0</text>
<text transform="translate(442.2 299.6)" text-anchor="middle" font-size="8" style="stroke-width:0.15px">4</text>
<text transform="translate(474.7 299.6)" text-anchor="middle" font-size="8" style="stroke-width:0.15px">8</text>
<text transform="translate(507.2 299.6)" text-anchor="middle" font-size="8" style="stroke-width:0.15px">12</text>
<text transform="translate(539.7 299.6)" text-anchor="middle" font-size="8" style="stroke-width:0.15px">16</text>
<path d="M409.7 289.1V291.9M442.2 289.1V291.9M474.7 289.1V291.9M507.2 289.1V291.9M539.7 289.1V291.9M425.95 289.1V290.7M458.45 289.1V290.7M490.95 289.1V290.7M523.45 289.1V290.7" stroke="#3c3c3c" stroke-width="0.9"/>
<text x="471.4" y="310.1" text-anchor="middle" font-size="9.6">Time (μs)</text>
<text transform="translate(381.3 233.75) rotate(-90)" text-anchor="middle" font-size="9.65">Current (mA)</text>
<text transform="translate(370.4 174.4) scale(1.1 1)" font-size="17.4" style="stroke-width:0.1px">(f)</text>
</svg></body></html>
